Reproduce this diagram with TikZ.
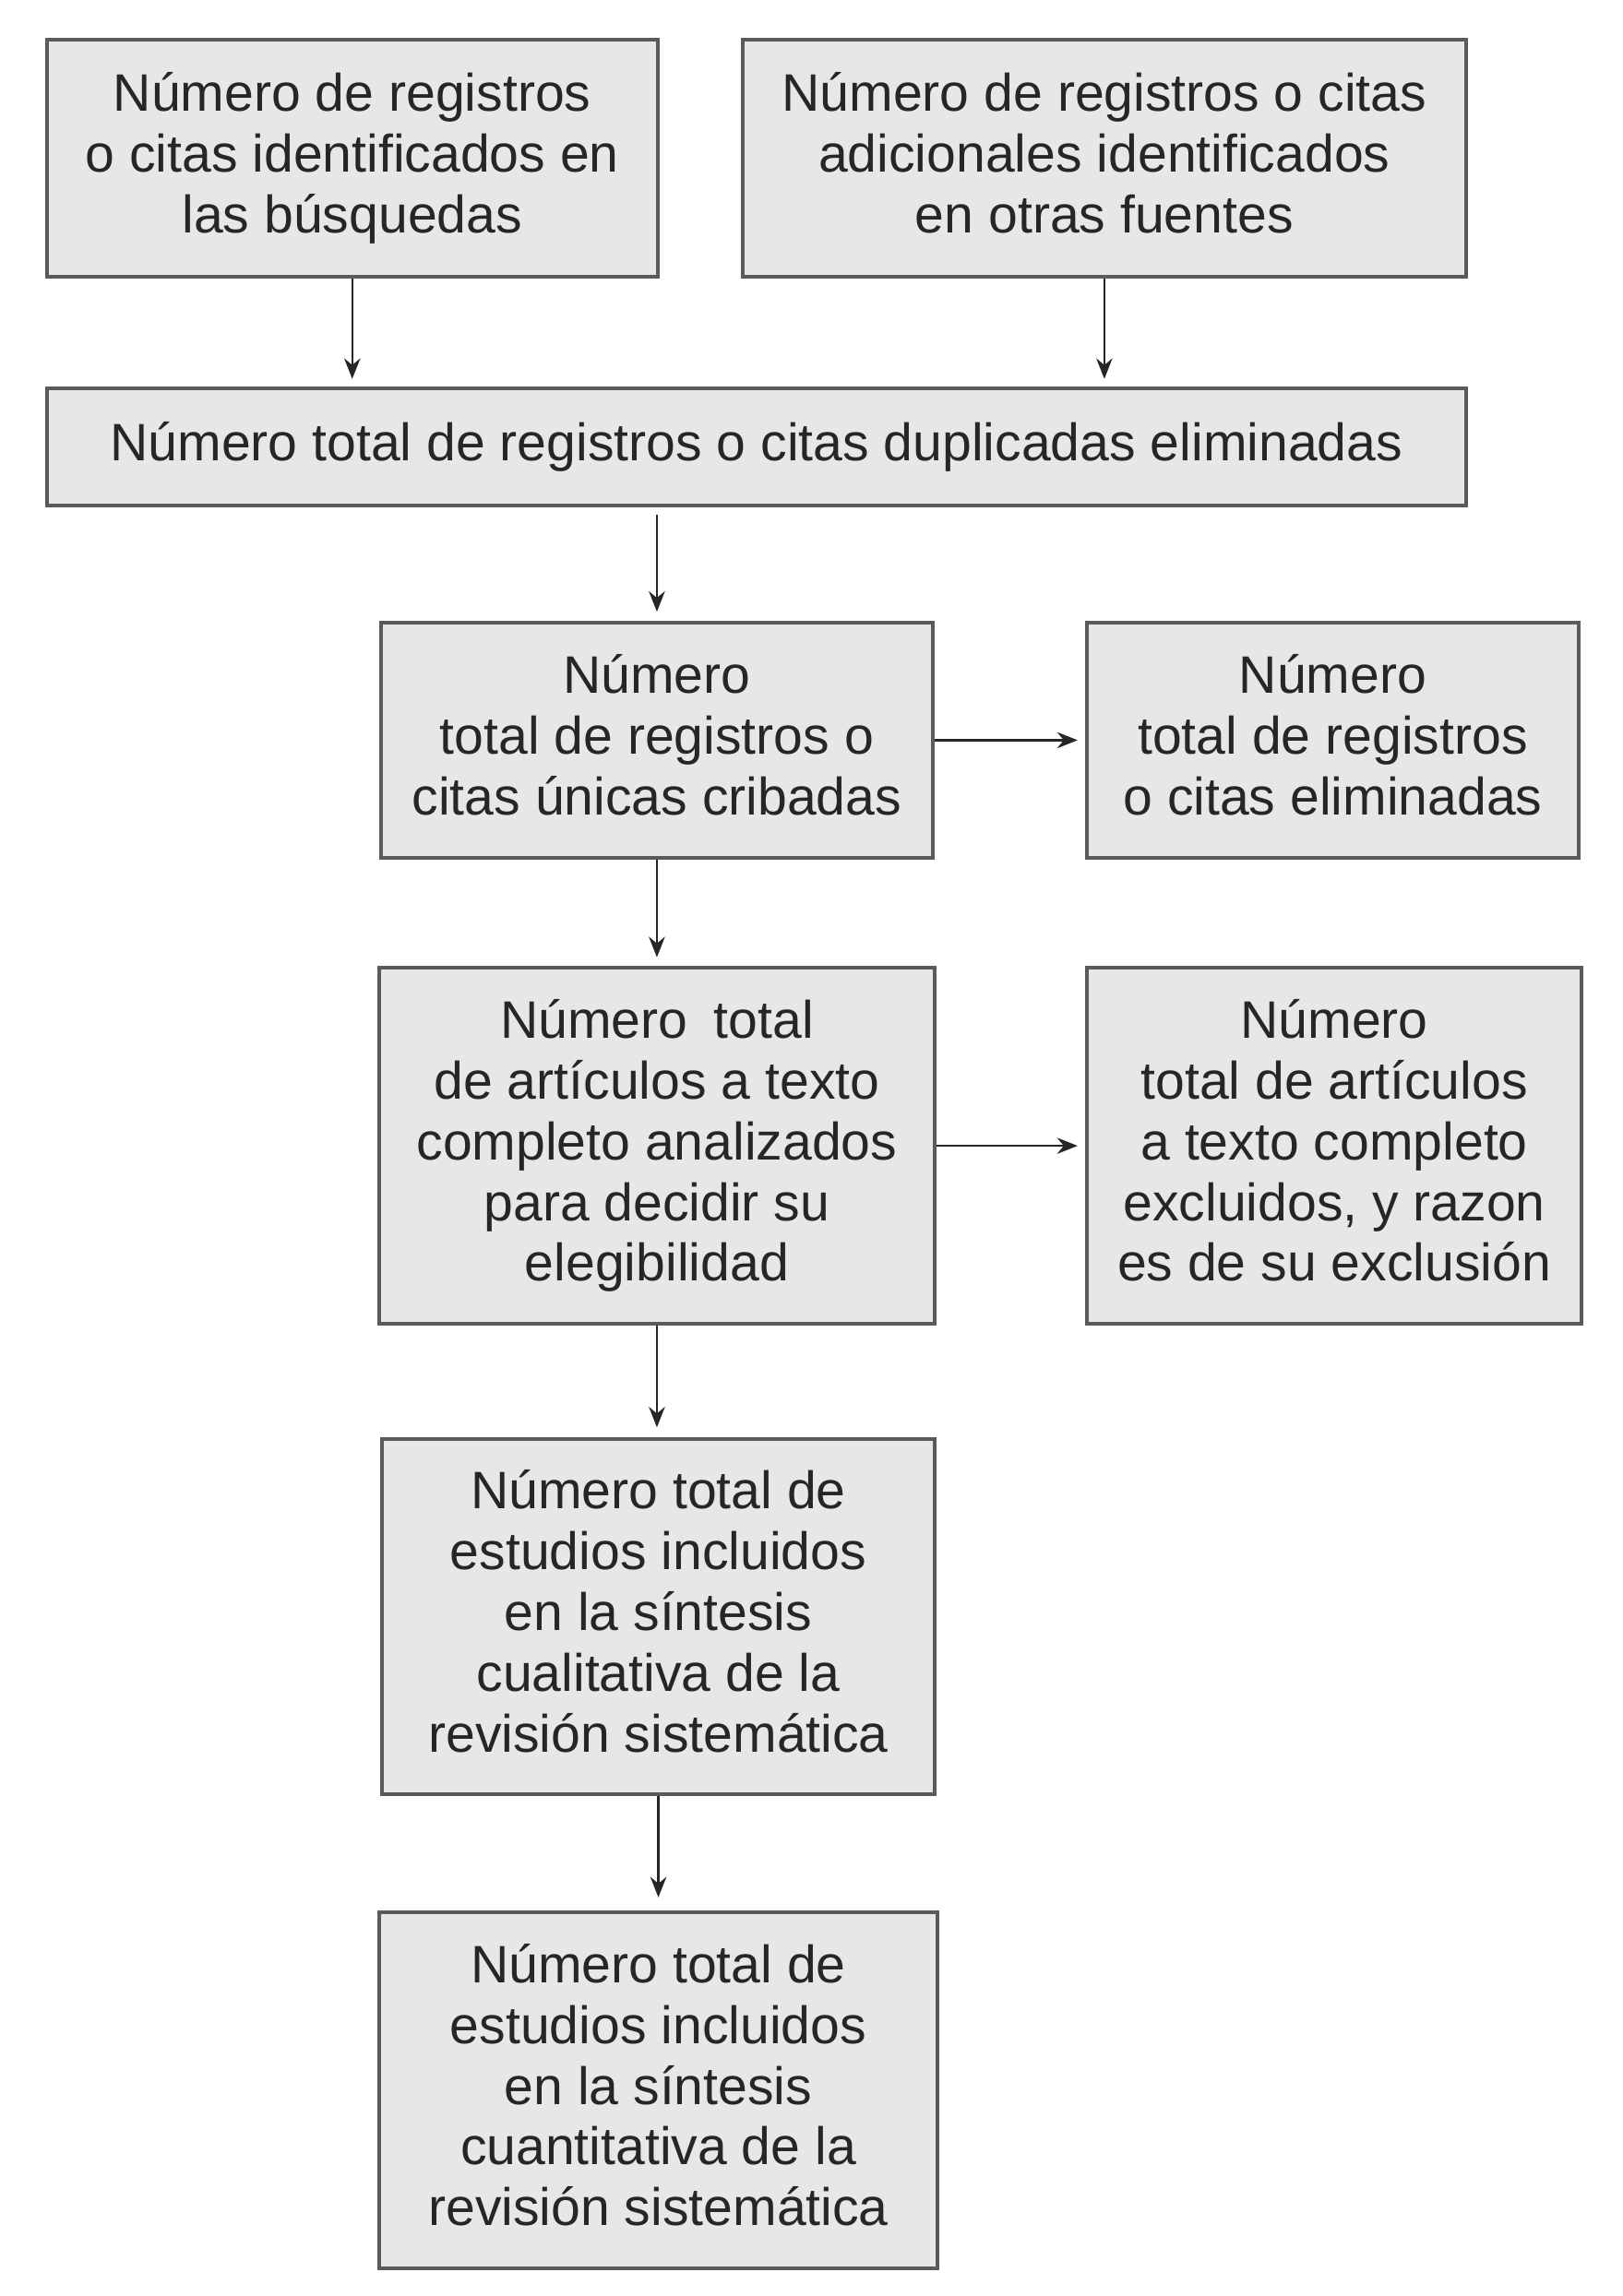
\documentclass[tikz,border=0pt]{standalone}
\usepackage{fontspec}
\setmainfont{Liberation Sans}
\usetikzlibrary{arrows.meta,calc}
\definecolor{boxfill}{HTML}{E6E7E8}
\definecolor{boxline}{HTML}{5A5A5A}
\begin{document}
\begin{tikzpicture}[x=1pt,y=-1pt,
  flowbox/.style={draw=boxline,fill=boxfill,line width=2.5pt,rectangle,
    align=center,inner sep=0pt,text=black!85,
    font=\fontsize{36}{41.5}\selectfont,
    execute at end node={\vphantom{g}}},
  flowarrow/.style={draw=black!85,line width=1.4pt,
    -{Stealth[length=14pt,width=11pt]}}]
\useasboundingbox[fill=white] (0,0) rectangle (1108,1568);

\node[flowbox,minimum width=417pt,minimum height=162pt] (b1) at (240.5,108)
  {Número de registros\\o citas identificados en\\las búsquedas};
\node[flowbox,minimum width=494pt,minimum height=162pt] (b2) at (754,108)
  {Número de registros o citas\\adicionales identificados\\en otras fuentes};
\node[flowbox,minimum width=969pt,minimum height=80pt] (b3) at (516.5,305)
  {Número total de registros o citas duplicadas eliminadas};
\node[flowbox,minimum width=377pt,minimum height=161pt] (b4) at (448.5,505.5)
  {Número\\total de registros o\\citas únicas cribadas};
\node[flowbox,minimum width=336pt,minimum height=161pt] (b5) at (910,505.5)
  {Número\\total de registros\\o citas eliminadas};
\node[flowbox,minimum width=379pt,minimum height=243pt] (b6) at (448.5,782.5)
  {Número\enspace total\\de artículos a texto\\completo analizados\\para decidir su\\elegibilidad};
\node[flowbox,minimum width=338pt,minimum height=243pt] (b7) at (911,782.5)
  {Número\\total de artículos\\a texto completo\\excluidos, y razon\\es de su exclusión};
\node[flowbox,minimum width=377pt,minimum height=242pt] (b8) at (449.5,1104)
  {Número total de\\estudios incluidos\\en la síntesis\\cualitativa de la\\revisión sistemática};
\node[flowbox,minimum width=381pt,minimum height=243pt] (b9) at (449.5,1427.5)
  {Número total de\\estudios incluidos\\en la síntesis\\cuantitativa de la\\revisión sistemática};

\draw[flowarrow,shorten >=5pt] (b1.south) -- (b1.south |- b3.north);
\draw[flowarrow,shorten >=5pt] (b2.south) -- (b2.south |- b3.north);
\draw[flowarrow,shorten <=5pt,shorten >=6pt] (b4.north |- b3.south) -- (b4.north);
\draw[flowarrow,shorten >=5pt] (b4.east) -- (b4.east -| b5.west);
\draw[flowarrow,shorten >=6pt] (b4.south) -- (b6.north);
\draw[flowarrow,shorten >=5pt] (b6.east) -- (b6.east -| b7.west);
\draw[flowarrow,shorten >=7pt] (b6.south) -- (b6.south |- b8.north);
\draw[flowarrow,shorten >=9pt] (b8.south) -- (b8.south |- b9.north);
\end{tikzpicture}
\end{document}
